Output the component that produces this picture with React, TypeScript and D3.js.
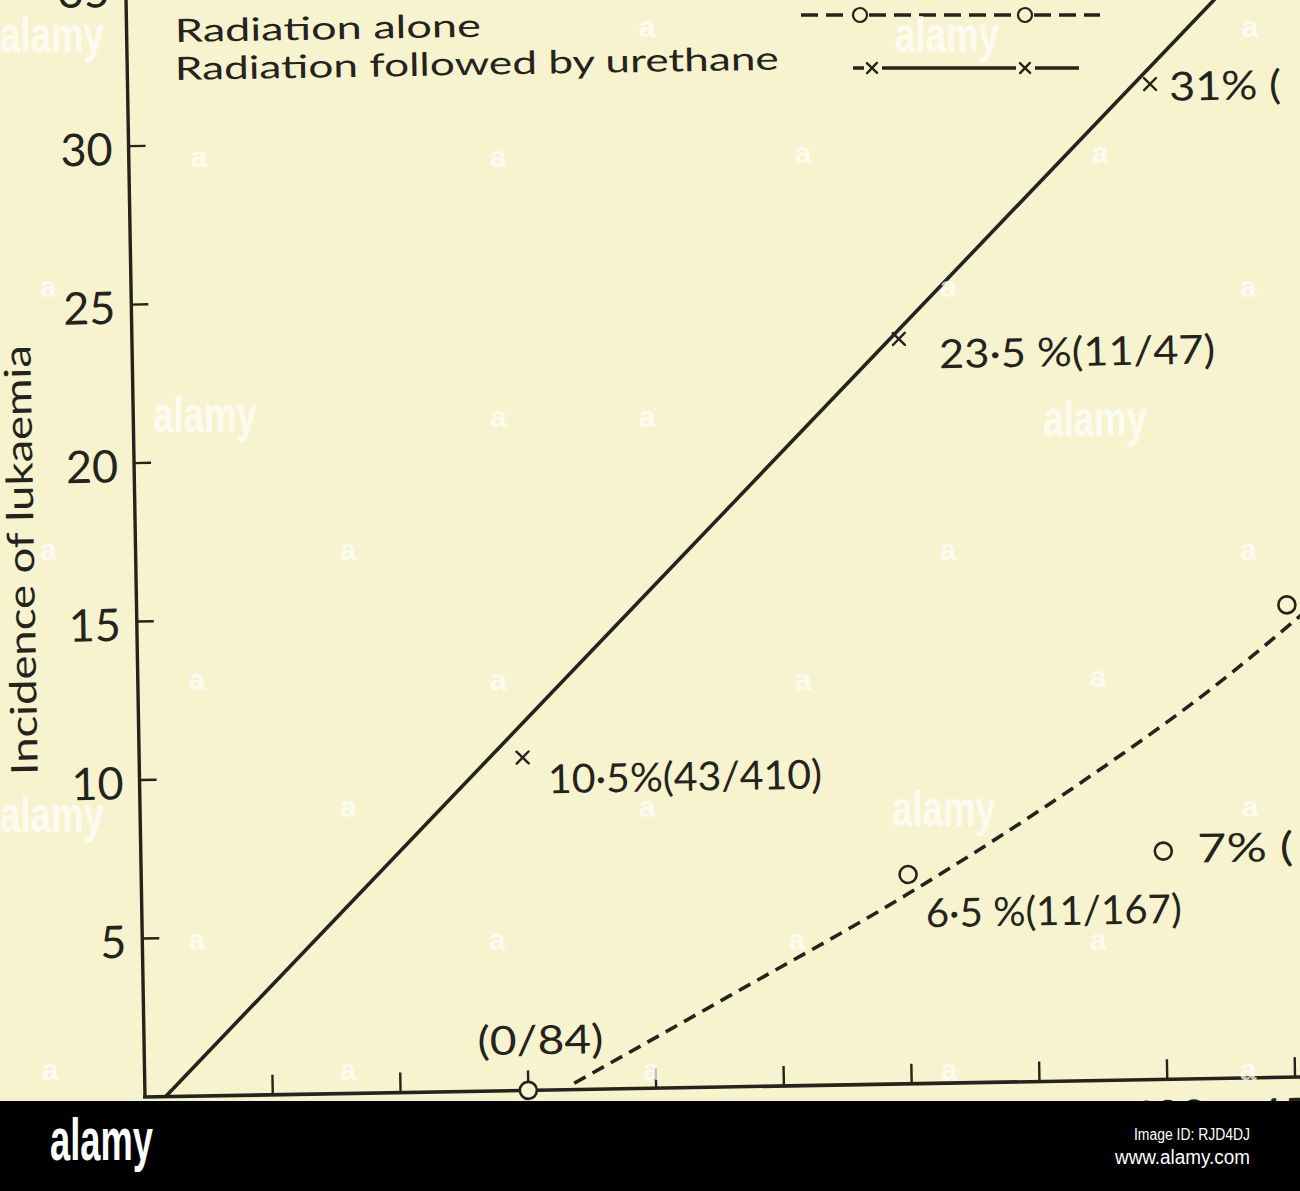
import React from "react";
import * as d3 from "d3";

// ---------- data ----------
const xTicks = [50, 100, 150, 200, 250, 300, 350, 400, 450];
const xTickLabels = ["50", "100", "150", "200", "250", "300", "350", "400", "450"];
const yTicks = [5, 10, 15, 20, 25, 30, 35];
const yTickLabels = ["5", "10", "15", "20", "25", "30", "35"];

const doseUrethane = [150, 300, 400];
const incidenceUrethane = [10.5, 23.5, 31.4];
const labelsUrethane = ["10·5%(43/410)", "23·5 %(11/47)", "31% ("];

const doseAlone = [150, 300, 400, 450];
const incidenceAlone = [0, 6.6, 7.2, 14.9];
const labelsAlone = ["(0/84)", "6·5 %(11/167)", "7% (", ""];

// fitted lines as drawn on the figure
const fitUrethaneDose = [8, 445];
const fitUrethaneValue = [0, 35.6];
const fitAloneDose = [168, 230, 300, 370, 420, 462];
const fitAloneValue = [0.2, 2.9, 6.0, 9.5, 12.3, 15.0];

const legendLabels = ["Radiation alone", "Radiation followed by urethane"];
const yAxisTitle = "Incidence of lukaemia";

// ---------- layout (not data) ----------
const W = 1300;
const H = 1191;
const OX = 145;
const OY = 1097;
const ANG = 0.99; // scan is rotated slightly counter-clockwise
const SN = Math.sin((ANG * Math.PI) / 180);
const CS = Math.cos((ANG * Math.PI) / 180);
const BG = "#f8f3cf";
const INK = "#24231c";
const FONT = "Lato, 'Open Sans', sans-serif";

// label offsets relative to their mark: [dx, dy, textLength]
const urethaneLabelLayout: [number, number, number][] = [
  [25, 36, 274],
  [40, 30, 276],
  [19, 17, 112],
];
const aloneLabelLayout: [number, number, number][] = [
  [-50, -36, 126],
  [17, 53, 256],
  [34, 12, 96],
  [0, 0, 0],
];

const bigMarks = [
  [0, 52],
  [895, 52],
  [153, 432],
  [1043, 436],
  [0, 832],
  [892, 826],
];
const smallMarks = [
  [647, 37], [1250, 37],
  [199, 167], [498, 167], [803, 163], [1100, 163],
  [48, 297], [948, 297], [1248, 297],
  [647, 427], [498, 427],
  [48, 560], [348, 560], [948, 560], [1248, 560],
  [197, 690], [498, 690], [803, 690], [1098, 687],
  [647, 817], [348, 817], [1250, 817],
  [197, 950], [497, 950], [797, 950], [1098, 950],
  [50, 1080], [348, 1080], [651, 1080], [949, 1080], [1248, 1080],
];

// screen point -> unrotated chart-group coordinates
function inv(X: number, Y: number): [number, number] {
  const sx = X - OX;
  const hs = OY - Y;
  return [sx * CS + hs * SN, -(hs * CS - sx * SN)];
}

function Cross({ cx, cy, r = 6 }: { cx: number; cy: number; r?: number }) {
  return (
    <g stroke={INK} strokeWidth={2.4} strokeLinecap="round">
      <line x1={cx - r} y1={cy - r} x2={cx + r} y2={cy + r} />
      <line x1={cx - r} y1={cy + r} x2={cx + r} y2={cy - r} />
    </g>
  );
}

export default function App() {
  const x = d3.scaleLinear().domain([0, 500]).range([0, 1278]);
  const y = d3.scaleLinear().domain([0, 35]).range([0, -1109.5]);

  const straight = d3
    .line<number>()
    .x((_, i) => x(fitUrethaneDose[i]))
    .y((_, i) => y(fitUrethaneValue[i]));
  const curved = d3
    .line<number>()
    .x((_, i) => x(fitAloneDose[i]))
    .y((_, i) => y(fitAloneValue[i]))
    .curve(d3.curveMonotoneX);

  const leg1 = inv(175, 42);
  const leg2 = inv(175, 80);
  const sym1y = 15;
  const sym2y = 68;
  const seg = (a: number, b: number, yy: number) => {
    const p = inv(a, yy);
    const q = inv(b, yy);
    return `M${p[0]},${p[1]}L${q[0]},${q[1]}`;
  };
  const c1a = inv(860, sym1y);
  const c1b = inv(1025, sym1y);
  const x2a = inv(872, sym2y);
  const x2b = inv(1025, sym2y);
  const yTitle = inv(34, 560);

  return (
    <svg
      width={W}
      height={H}
      viewBox={`0 0 ${W} ${H}`}
      style={{ position: "absolute", left: 0, top: 0, display: "block" }}
      fontFamily={FONT}
    >
      <rect x={0} y={0} width={W} height={H} fill={BG} />
      <g transform={`translate(${OX},${OY}) rotate(${-ANG})`}>
        {/* axes */}
        <line x1={0} y1={0} x2={0} y2={y(36.5)} stroke={INK} strokeWidth={3.4} />
        <line x1={-2} y1={0} x2={x(530)} y2={0} stroke={INK} strokeWidth={3.6} />
        {yTicks.map((v, i) => (
          <g key={"yt" + v}>
            <line x1={0} y1={y(v)} x2={17} y2={y(v)} stroke={INK} strokeWidth={2.4} />
            <text
              x={-16}
              y={y(v) + 19}
              textAnchor="end"
              fontSize={45}
              fill={INK}
            >
              {yTickLabels[i]}
            </text>
          </g>
        ))}
        {xTicks.map((v, i) => (
          <g key={"xt" + v}>
            <line x1={x(v)} y1={0} x2={x(v)} y2={-20} stroke={INK} strokeWidth={2.4} />
            <text x={x(v)} y={53} textAnchor="middle" fontSize={45} fill={INK}>
              {xTickLabels[i]}
            </text>
          </g>
        ))}
        <text
          transform={`translate(${yTitle[0]},${yTitle[1]}) rotate(-90)`}
          textAnchor="middle"
          fontSize={37}
          fill={INK}
          textLength={430}
          lengthAdjust="spacingAndGlyphs"
        >
          {yAxisTitle}
        </text>

        {/* fitted lines */}
        <path
          d={straight(fitUrethaneDose) || ""}
          fill="none"
          stroke={INK}
          strokeWidth={3.6}
        />
        <path
          d={curved(fitAloneDose) || ""}
          fill="none"
          stroke={INK}
          strokeWidth={3.6}
          strokeDasharray="13 8"
        />

        {/* radiation + urethane points */}
        {doseUrethane.map((d, i) => {
          const px = x(d);
          const py = y(incidenceUrethane[i]);
          const [ox, oy, tl] = urethaneLabelLayout[i];
          return (
            <g key={"u" + d}>
              <Cross cx={px} cy={py} />
              <text
                x={px + ox}
                y={py + oy}
                fontSize={40}
                fill={INK}
                textLength={tl}
                lengthAdjust="spacingAndGlyphs"
              >
                {labelsUrethane[i]}
              </text>
            </g>
          );
        })}

        {/* radiation alone points */}
        {doseAlone.map((d, i) => {
          const px = x(d);
          const py = y(incidenceAlone[i]);
          const [ox, oy, tl] = aloneLabelLayout[i];
          return (
            <g key={"a" + d}>
              <circle cx={px} cy={py} r={8.5} fill={BG} stroke={INK} strokeWidth={2.6} />
              {labelsAlone[i] && (
                <text
                  x={px + ox}
                  y={py + oy}
                  fontSize={40}
                  fill={INK}
                  textLength={tl}
                  lengthAdjust="spacingAndGlyphs"
                >
                  {labelsAlone[i]}
                </text>
              )}
            </g>
          );
        })}

        {/* legend */}
        <text
          x={leg1[0]}
          y={leg1[1]}
          fontSize={32}
          fill={INK}
          textLength={306}
          lengthAdjust="spacingAndGlyphs"
        >
          {legendLabels[0]}
        </text>
        <text
          x={leg2[0]}
          y={leg2[1]}
          fontSize={32}
          fill={INK}
          textLength={604}
          lengthAdjust="spacingAndGlyphs"
        >
          {legendLabels[1]}
        </text>
        <path
          d={seg(801, 851, sym1y) + seg(869, 1016, sym1y) + seg(1034, 1100, sym1y)}
          stroke={INK}
          strokeWidth={3.6}
          strokeDasharray="17 8"
          fill="none"
        />
        <circle cx={c1a[0]} cy={c1a[1]} r={7} fill="none" stroke={INK} strokeWidth={2.2} />
        <circle cx={c1b[0]} cy={c1b[1]} r={7} fill="none" stroke={INK} strokeWidth={2.2} />
        <path
          d={seg(853, 864, sym2y) + seg(882, 1016, sym2y) + seg(1035, 1079, sym2y)}
          stroke={INK}
          strokeWidth={3.4}
          fill="none"
        />
        <Cross cx={x2a[0]} cy={x2a[1]} r={5} />
        <Cross cx={x2b[0]} cy={x2b[1]} r={5} />
      </g>

      {/* stock watermark */}
      <g
        fill="#ffffff"
        fillOpacity={0.72}
        fontFamily="'Liberation Sans Narrow', 'Liberation Sans', sans-serif"
        fontWeight="bold"
      >
        {bigMarks.map(([mx, my], i) => (
          <text
            key={"bm" + i}
            x={mx}
            y={my}
            fontSize={50}
            textLength={104}
            lengthAdjust="spacingAndGlyphs"
          >
            alamy
          </text>
        ))}
        {smallMarks.map(([mx, my], i) => (
          <text key={"sm" + i} x={mx} y={my} fontSize={30} textAnchor="middle">
            a
          </text>
        ))}
      </g>

      {/* banner */}
      <rect x={0} y={1101} width={W} height={H - 1101} fill="#000000" />
      <text
        x={50}
        y={1160}
        fill="#ffffff"
        fontFamily="'Liberation Sans Narrow', 'Liberation Sans', sans-serif"
        fontWeight="bold"
        fontSize={60}
        textLength={103}
        lengthAdjust="spacingAndGlyphs"
      >
        alamy
      </text>
      <text
        x={1250}
        y={1140}
        fill="#ffffff"
        textAnchor="end"
        fontFamily="'Liberation Sans Narrow', 'Liberation Sans', sans-serif"
        fontSize={16}
        textLength={116}
        lengthAdjust="spacingAndGlyphs"
      >
        Image ID: RJD4DJ
      </text>
      <text
        x={1250}
        y={1164}
        fill="#ffffff"
        textAnchor="end"
        fontFamily="'Liberation Sans Narrow', 'Liberation Sans', sans-serif"
        fontSize={20}
        textLength={135}
        lengthAdjust="spacingAndGlyphs"
      >
        www.alamy.com
      </text>
    </svg>
  );
}
